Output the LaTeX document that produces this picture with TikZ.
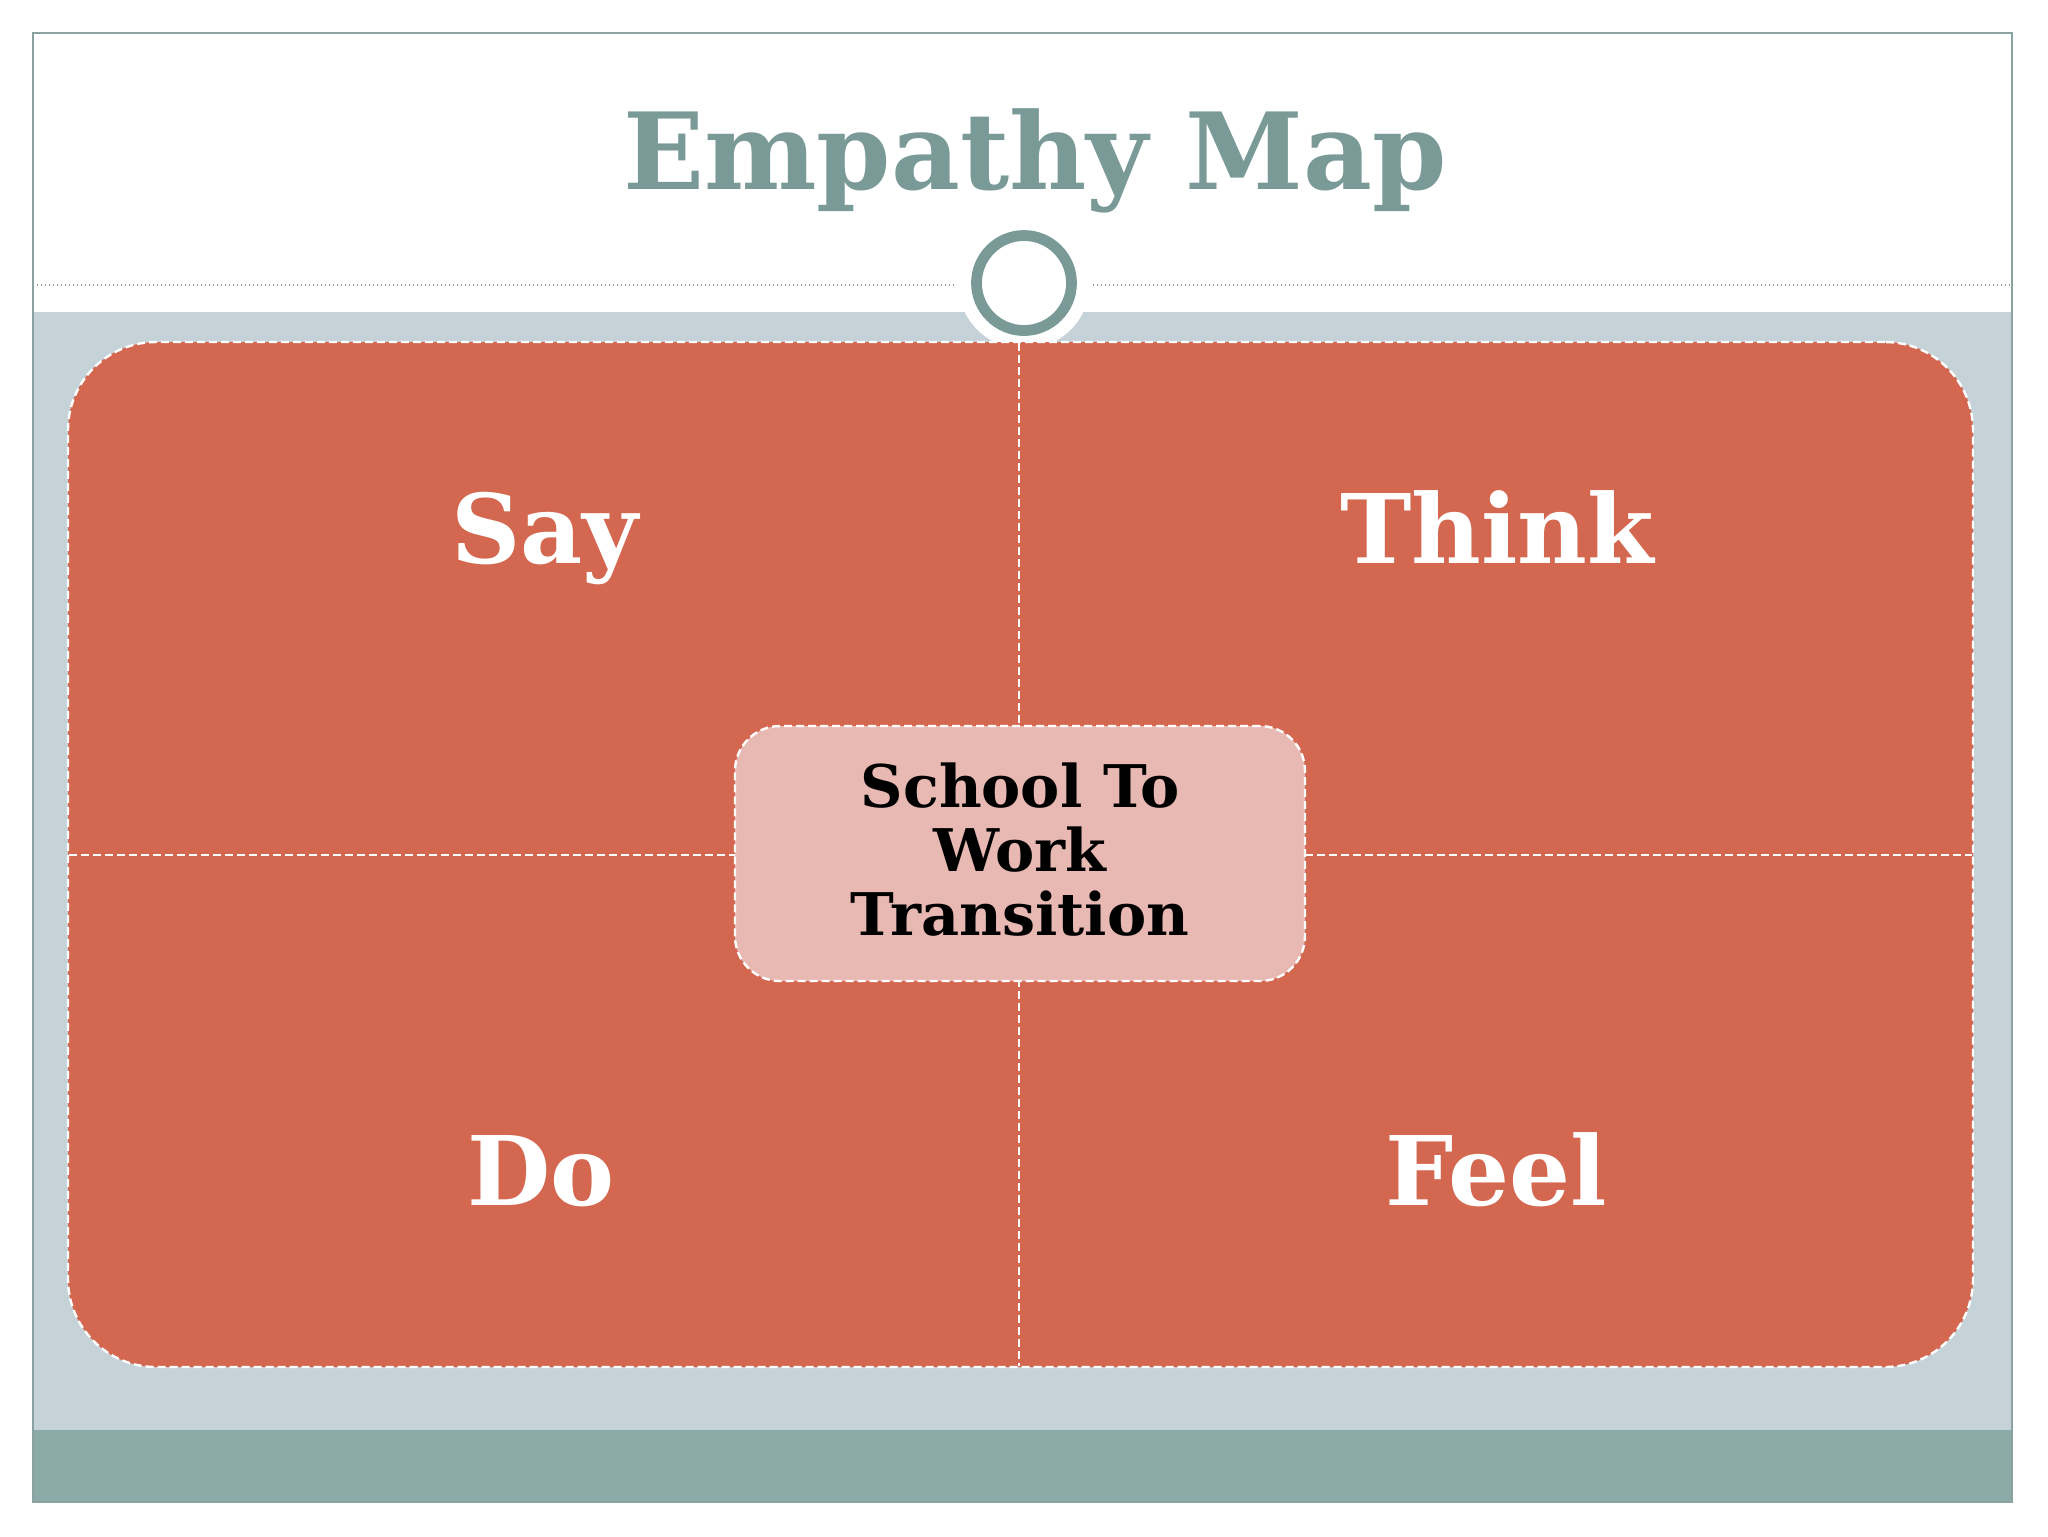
\documentclass[tikz,border=0pt]{standalone}
\usepackage{fontspec}
\setmainfont{DejaVu Serif}
\definecolor{orangefill}{HTML}{D4674F}
\definecolor{pinkfill}{HTML}{E8B8B3}
\definecolor{bandgrey}{HTML}{C5D2D7}
\definecolor{bandteal}{HTML}{8CABA8}
\definecolor{framecol}{HTML}{8AA3A0}
\definecolor{titlecol}{HTML}{7A9A98}
\tikzset{
  quadlabel/.style={anchor=base, text=white, font=\fontsize{24}{28}\selectfont\bfseries, inner sep=0pt},
  whitedash/.style={draw=white, line width=0.6pt, dash pattern=on 2pt off 1pt},
  divider/.style={white, line width=0.5pt, dash pattern=on 2pt off 1pt},
  dotline/.style={draw=gray!80, line width=0.35pt, dash pattern=on 0.3pt off 0.7pt},
}
\begin{document}
\begin{tikzpicture}[x=0.25pt,y=-0.25pt]
\useasboundingbox (0,0) rectangle (2048,1536);
\fill[white] (0,0) rectangle (2048,1536);
% bands
\fill[bandgrey] (33,312) rectangle (2012,1430);
\fill[bandteal] (33,1430) rectangle (2012,1502);
% header dotted line
\draw[dotline] (33,285) -- (955,285);
\draw[dotline] (1093,285) -- (2012,285);
% white cut-out behind the ring
\fill[white] (1024,283) circle[radius=66];
% frame
\draw[framecol, line width=0.6pt] (33,33) rectangle (2012,1502);
% title
\node[anchor=base, text=titlecol, font=\fontsize{26.6}{30}\selectfont\bfseries, inner sep=0pt] (title) at (1035,189) {Empathy Map};
% main rounded panel
\node[whitedash, fill=orangefill, rounded corners=22pt, minimum width=476.25pt, minimum height=256.25pt, inner sep=0pt] (map) at (1020.5,854.5) {};
% ring
\node[draw=titlecol, line width=2.7pt, circle, minimum size=23.75pt, inner sep=0pt, fill=white] (ring) at (1024,283) {};
% dividers
\coordinate (vt) at (1019,343);
\coordinate (vb) at (1019,1366);
\coordinate (hl) at (69,855);
\coordinate (hr) at (1972,855);
\draw[divider] (vt) -- (vb);
\draw[divider] (hl) -- (hr);
% centre box
\node[whitedash, fill=pinkfill, rounded corners=11.25pt, minimum width=142.5pt, minimum height=63.75pt, inner sep=0pt, align=center, font=\fontsize{14.7}{16}\selectfont\bfseries, text=black] (centre) at (1020,853.5) {};
\node[align=center, font=\fontsize{14.7}{16}\selectfont\bfseries, text=black, inner sep=0pt] (centretext) at ([yshift=1.1pt]centre.center) {School To\\Work\\Transition};
% labels
\node[quadlabel] (say) at (545,563) {Say};
\node[quadlabel] (think) at (1497,563) {Think};
\node[quadlabel] (do) at (541,1205) {Do};
\node[quadlabel] (feel) at (1496,1205) {Feel};
\end{tikzpicture}
\end{document}
